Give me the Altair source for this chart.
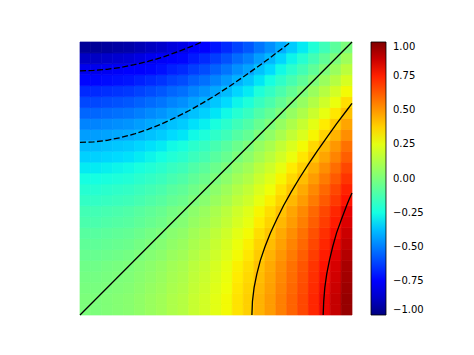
import altair as alt
import pandas as pd

# Field values (hundredths), 25 x 25 cells; rows run from bottom (y low) to top (y high),
# columns from left (x low) to right (x high).
z_hundredths = [
    [0, 0, 1, 2, 3, 5, 7, 9, 12, 14, 18, 21, 25, 29, 34, 38, 44, 49, 55, 61, 67, 74, 81, 88, 96],
    [0, 0, 1, 2, 3, 5, 7, 9, 12, 14, 18, 21, 25, 29, 34, 38, 44, 49, 55, 61, 67, 74, 81, 88, 96],
    [-1, -1, 0, 1, 2, 4, 6, 8, 11, 13, 17, 20, 24, 28, 33, 37, 43, 48, 54, 60, 66, 73, 80, 87, 95],
    [-2, -2, -1, 0, 1, 3, 5, 7, 10, 12, 16, 19, 23, 27, 32, 36, 42, 47, 53, 59, 65, 72, 79, 86, 94],
    [-3, -3, -2, -1, 0, 2, 4, 6, 9, 11, 15, 18, 22, 26, 31, 35, 41, 46, 52, 58, 64, 71, 78, 85, 93],
    [-5, -5, -4, -3, -2, 0, 2, 4, 7, 9, 13, 16, 20, 24, 29, 33, 39, 44, 50, 56, 62, 69, 76, 83, 91],
    [-7, -7, -6, -5, -4, -2, 0, 2, 5, 7, 11, 14, 18, 22, 27, 31, 37, 42, 48, 54, 60, 67, 74, 81, 89],
    [-9, -9, -8, -7, -6, -4, -2, 0, 3, 5, 9, 12, 16, 20, 25, 29, 35, 40, 46, 52, 58, 65, 72, 79, 87],
    [-12, -12, -11, -10, -9, -7, -5, -3, 0, 2, 6, 9, 13, 17, 22, 26, 32, 37, 43, 49, 55, 62, 69, 76, 84],
    [-14, -14, -13, -12, -11, -9, -7, -5, -2, 0, 4, 7, 11, 15, 20, 24, 30, 35, 41, 47, 53, 60, 67, 74, 82],
    [-18, -18, -17, -16, -15, -13, -11, -9, -6, -4, 0, 3, 7, 11, 16, 20, 26, 31, 37, 43, 49, 56, 63, 70, 78],
    [-21, -21, -20, -19, -18, -16, -14, -12, -9, -7, -3, 0, 4, 8, 13, 17, 23, 28, 34, 40, 46, 53, 60, 67, 75],
    [-25, -25, -24, -23, -22, -20, -18, -16, -13, -11, -7, -4, 0, 4, 9, 13, 19, 24, 30, 36, 42, 49, 56, 63, 71],
    [-29, -29, -28, -27, -26, -24, -22, -20, -17, -15, -11, -8, -4, 0, 5, 9, 15, 20, 26, 32, 38, 45, 52, 59, 67],
    [-34, -34, -33, -32, -31, -29, -27, -25, -22, -20, -16, -13, -9, -5, 0, 4, 10, 15, 21, 27, 33, 40, 47, 54, 62],
    [-38, -38, -37, -36, -35, -33, -31, -29, -26, -24, -20, -17, -13, -9, -4, 0, 6, 11, 17, 23, 29, 36, 43, 50, 58],
    [-44, -44, -43, -42, -41, -39, -37, -35, -32, -30, -26, -23, -19, -15, -10, -6, 0, 5, 11, 17, 23, 30, 37, 44, 52],
    [-49, -49, -48, -47, -46, -44, -42, -40, -37, -35, -31, -28, -24, -20, -15, -11, -5, 0, 6, 12, 18, 25, 32, 39, 47],
    [-55, -55, -54, -53, -52, -50, -48, -46, -43, -41, -37, -34, -30, -26, -21, -17, -11, -6, 0, 6, 12, 19, 26, 33, 41],
    [-61, -61, -60, -59, -58, -56, -54, -52, -49, -47, -43, -40, -36, -32, -27, -23, -17, -12, -6, 0, 6, 13, 20, 27, 35],
    [-67, -67, -66, -65, -64, -62, -60, -58, -55, -53, -49, -46, -42, -38, -33, -29, -23, -18, -12, -6, 0, 7, 14, 21, 29],
    [-74, -74, -73, -72, -71, -69, -67, -65, -62, -60, -56, -53, -49, -45, -40, -36, -30, -25, -19, -13, -7, 0, 7, 14, 22],
    [-81, -81, -80, -79, -78, -76, -74, -72, -69, -67, -63, -60, -56, -52, -47, -43, -37, -32, -26, -20, -14, -7, 0, 7, 15],
    [-88, -88, -87, -86, -85, -83, -81, -79, -76, -74, -70, -67, -63, -59, -54, -50, -44, -39, -33, -27, -21, -14, -7, 0, 8],
    [-96, -96, -95, -94, -93, -91, -89, -87, -84, -82, -78, -75, -71, -67, -62, -58, -52, -47, -41, -35, -29, -22, -15, -8, 0],
]

# Contour lines (x, y in unit square)
c_pos08_x = [0.894, 0.896, 0.900, 0.907, 0.917, 0.929, 0.943, 0.961, 0.980, 0.990, 1.000]
c_pos08_y = [0.000, 0.050, 0.100, 0.150, 0.200, 0.250, 0.300, 0.350, 0.400, 0.425, 0.447]
c_pos04_x = [0.632, 0.634, 0.640, 0.650, 0.663, 0.680, 0.700, 0.723, 0.748, 0.776, 0.806,
             0.838, 0.872, 0.907, 0.943, 0.981, 1.000]
c_pos04_y = [0.000, 0.050, 0.100, 0.150, 0.200, 0.250, 0.300, 0.350, 0.400, 0.450, 0.500,
             0.550, 0.600, 0.650, 0.700, 0.750, 0.775]
c_zero_x = [0.0, 1.0]
c_zero_y = [0.0, 1.0]
c_neg04_x = c_pos04_y
c_neg04_y = c_pos04_x
c_neg08_x = c_pos08_y
c_neg08_y = c_pos08_x

# colour bar runs from -1 to 1 with a label every 0.25 (8 steps)
colorbar_steps = 8

# jet colormap stops
jet_pos = [0.0, 0.11, 0.125, 0.34, 0.35, 0.375, 0.64, 0.65, 0.66, 0.89, 0.91, 1.0]
jet_col = ["#000080", "#0000ff", "#0000ff", "#00dbff", "#00e6f7", "#15ffe2",
           "#efff08", "#f7f600", "#ffec00", "#ff1300", "#e80000", "#800000"]

n = len(z_hundredths)
rows = []
for i, row in enumerate(z_hundredths):
    for j, v in enumerate(row):
        # colour field in quarter units so the bar's ticks fall on 0.25 steps
        rows.append({"x0": j / n, "x1": (j + 1) / n, "y0": i / n, "y1": (i + 1) / n,
                     "zq": v / 25})
grid = pd.DataFrame(rows)

lines = []
for name, xs_, ys_, neg in [
    ("p08", c_pos08_x, c_pos08_y, False),
    ("p04", c_pos04_x, c_pos04_y, False),
    ("z0", c_zero_x, c_zero_y, False),
    ("n04", c_neg04_x, c_neg04_y, True),
    ("n08", c_neg08_x, c_neg08_y, True),
]:
    for k, (a, b) in enumerate(zip(xs_, ys_)):
        lines.append({"lvl": name, "k": k, "x": a, "y": b, "neg": neg})
ldf = pd.DataFrame(lines)

xs = alt.Scale(domain=[0, 1], nice=False, zero=False)
ys = alt.Scale(domain=[0, 1], nice=False, zero=False)
cdom = [round(4 * (-1 + 2 * p), 4) for p in jet_pos]
cscale = alt.Scale(domain=cdom, range=jet_col, clamp=True, interpolate="rgb")

heat = alt.Chart(grid).mark_rect(
    strokeWidth=0.7,
    stroke=alt.ExprRef("scale('color', datum.zq)"),
).encode(
    x=alt.X("x0:Q", scale=xs, axis=None),
    x2="x1:Q",
    y=alt.Y("y0:Q", scale=ys, axis=None),
    y2="y1:Q",
    color=alt.Color(
        "zq:Q",
        scale=cscale,
        legend=alt.Legend(
            type="gradient",
            orient="none", legendX=291, legendY=0, direction="vertical",
            gradientLength=273, gradientThickness=15,
            gradientStrokeColor="black", gradientStrokeWidth=0.8,
            tickCount=colorbar_steps,
            labelExpr="format(datum.value / 4, '.2f')",
            title=None, padding=0,
            labelFontSize=10, labelFont="DejaVu Sans", labelColor="black",
            labelOffset=7, labelBaseline="middle",
        ),
    ),
)

solid = alt.Chart(ldf[~ldf["neg"]]).mark_line(color="black", strokeWidth=1.3).encode(
    x=alt.X("x:Q", scale=xs, axis=None),
    y=alt.Y("y:Q", scale=ys, axis=None),
    detail="lvl:N",
    order="k:Q",
)
dashed = alt.Chart(ldf[ldf["neg"]]).mark_line(color="black", strokeWidth=1.3, strokeDash=[6, 2.5]).encode(
    x=alt.X("x:Q", scale=xs, axis=None),
    y=alt.Y("y:Q", scale=ys, axis=None),
    detail="lvl:N",
    order="k:Q",
)

chart = alt.layer(heat, solid, dashed).properties(
    width=272, height=273,
    padding={"left": 80, "top": 42, "right": 122, "bottom": 40},
    autosize=alt.AutoSizeParams(type="none"),
).configure_view(stroke=None)

chart.save("out.html", embed_options={"renderer": "svg", "actions": False})
